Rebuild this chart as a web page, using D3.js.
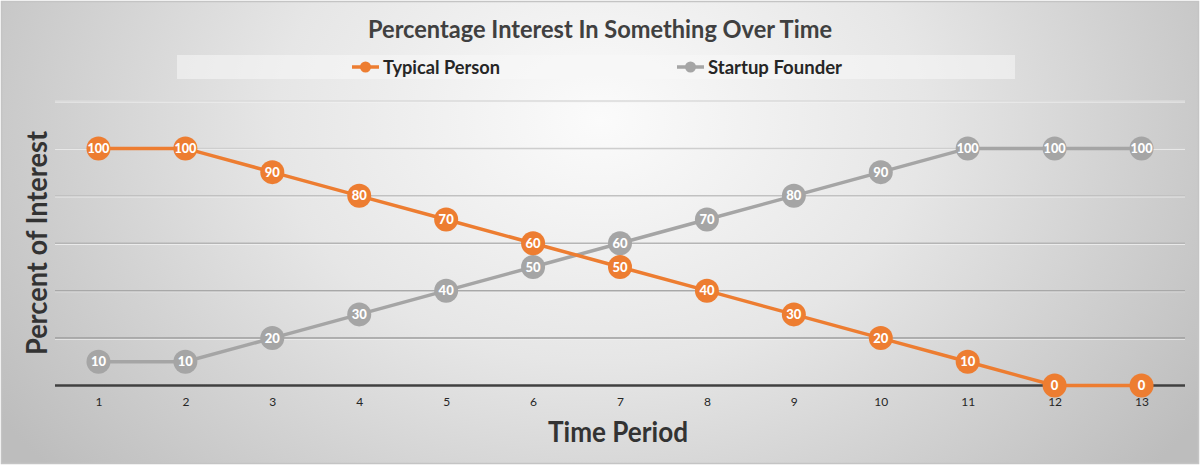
<!DOCTYPE html>
<html><head><meta charset="utf-8">
<script src="https://cdn.jsdelivr.net/npm/d3@7"></script>
<style>html,body{margin:0;padding:0;overflow:hidden;background:#fff}svg{display:block}</style>
</head><body>
<script>
const periods = [1,2,3,4,5,6,7,8,9,10,11,12,13];
const typicalPerson = [100,100,90,80,70,60,50,40,30,20,10,0,0];
const startupFounder = [10,10,20,30,40,50,60,70,80,90,100,100,100];
const yTicks = [20,40,60,80,100,120];
const seriesNames = ["Typical Person","Startup Founder"];
const seriesColors = ["#ED7D31","#A5A5A5"];

const W=1200,H=465;
const svg=d3.select("body").append("svg").attr("width",W).attr("height",H);
const defs=svg.append("defs");
const rg=defs.append("radialGradient").attr("id","bg").attr("gradientUnits","userSpaceOnUse")
  .attr("cx",600).attr("cy",120).attr("r",720).attr("gradientTransform","matrix(1,0,0,0.75,0,30)");
rg.append("stop").attr("offset","0").attr("stop-color","#fbfbfb");
rg.append("stop").attr("offset","0.45").attr("stop-color","#e6e6e6");
rg.append("stop").attr("offset","1").attr("stop-color","#bdbdbd");
svg.append("rect").attr("width",W).attr("height",H).attr("fill","#fff");
svg.append("rect").attr("x",1.5).attr("y",1.5).attr("width",W-3).attr("height",H-3)
  .attr("fill","url(#bg)").attr("stroke","#c4c4c4").attr("stroke-width",1.5);

const font="Lato, 'Open Sans', sans-serif";
const x=d3.scalePoint().domain(periods).range([55,1185]).padding(0.5);
const y=d3.scaleLinear().domain([0,120]).range([385.5,101]);

// gridlines
const gridColors=d3.scaleLinear().domain([20,120]).range(["#9c9c9c","#dadada"]);
const grid=svg.append("g");
yTicks.forEach(t=>{
  grid.append("line").attr("x1",55).attr("x2",1185).attr("y1",y(t)+1).attr("y2",y(t)+1)
    .attr("stroke","#f4f4f4").attr("stroke-width",1);
  grid.append("line").attr("x1",55).attr("x2",1185).attr("y1",y(t)).attr("y2",y(t))
    .attr("stroke",gridColors(t)).attr("stroke-width",1.5);
});

// x axis
const xAxis=svg.append("g").attr("transform",`translate(0,${y(0)})`)
  .call(d3.axisBottom(x).tickSize(0).tickPadding(12));
xAxis.select(".domain").attr("stroke","#404040").attr("stroke-width",2.5).attr("d","M55,0H1185");
xAxis.selectAll("text").attr("font-family",font).attr("font-size",12).attr("fill","#262626");

// legend box
svg.append("rect").attr("x",177).attr("y",55).attr("width",838).attr("height",24).attr("fill","#f8f8f8").attr("opacity",0.55);

// lines
const data=[typicalPerson,startupFounder];
const line=d3.line().x((d,i)=>x(periods[i])).y(d=>y(d));
[1,0].forEach(s=>{
  const g=svg.append("g");
  g.append("path").datum(data[s]).attr("d",line).attr("fill","none")
    .attr("stroke",seriesColors[s]).attr("stroke-width",3.5);
  g.selectAll("circle").data(data[s]).join("circle")
    .attr("cx",(d,i)=>x(periods[i])).attr("cy",d=>y(d)).attr("r",12)
    .attr("fill",seriesColors[s]);
  g.selectAll("text").data(data[s]).join("text")
    .attr("x",(d,i)=>x(periods[i])).attr("y",d=>y(d)+4.6)
    .attr("text-anchor","middle").attr("font-family",font).attr("font-weight",900)
    .attr("font-size",13).attr("fill","#fff").text(d=>d)
    .each(function(d){ if(String(d).length===3) d3.select(this).attr("textLength",22).attr("lengthAdjust","spacingAndGlyphs"); });
});

// title
const title=svg.append("text").attr("x",600).attr("y",38).attr("text-anchor","middle")
  .attr("font-family",font).attr("font-weight",700).attr("font-size",25).attr("fill","#404040")
  .attr("textLength",464).attr("lengthAdjust","spacingAndGlyphs")
  .text("Percentage Interest In Something Over Time");

// legend
const legX=[352,677];
const legW=[117,134];
seriesNames.forEach((n,i)=>{
  const lg=svg.append("g");
  lg.append("line").attr("x1",legX[i]).attr("x2",legX[i]+27).attr("y1",67).attr("y2",67)
    .attr("stroke",seriesColors[i]).attr("stroke-width",3.5);
  lg.append("circle").attr("cx",legX[i]+13.5).attr("cy",67).attr("r",5.5).attr("fill",seriesColors[i]);
  lg.append("text").attr("x",legX[i]+31).attr("y",73.5).attr("font-family",font)
    .attr("font-weight",700).attr("font-size",19).attr("fill","#262626")
    .attr("textLength",legW[i]).attr("lengthAdjust","spacingAndGlyphs").text(n);
});

// axis titles
svg.append("text").attr("x",618).attr("y",442).attr("text-anchor","middle")
  .attr("font-family",font).attr("font-weight",700).attr("font-size",28).attr("fill","#333")
  .attr("textLength",140).attr("lengthAdjust","spacingAndGlyphs")
  .text("Time Period");
svg.append("text").attr("transform","translate(47,243) rotate(-90)").attr("text-anchor","middle")
  .attr("font-family",font).attr("font-weight",700).attr("font-size",28).attr("fill","#333")
  .attr("textLength",224).attr("lengthAdjust","spacingAndGlyphs")
  .text("Percent of Interest");
</script>
</body></html>
